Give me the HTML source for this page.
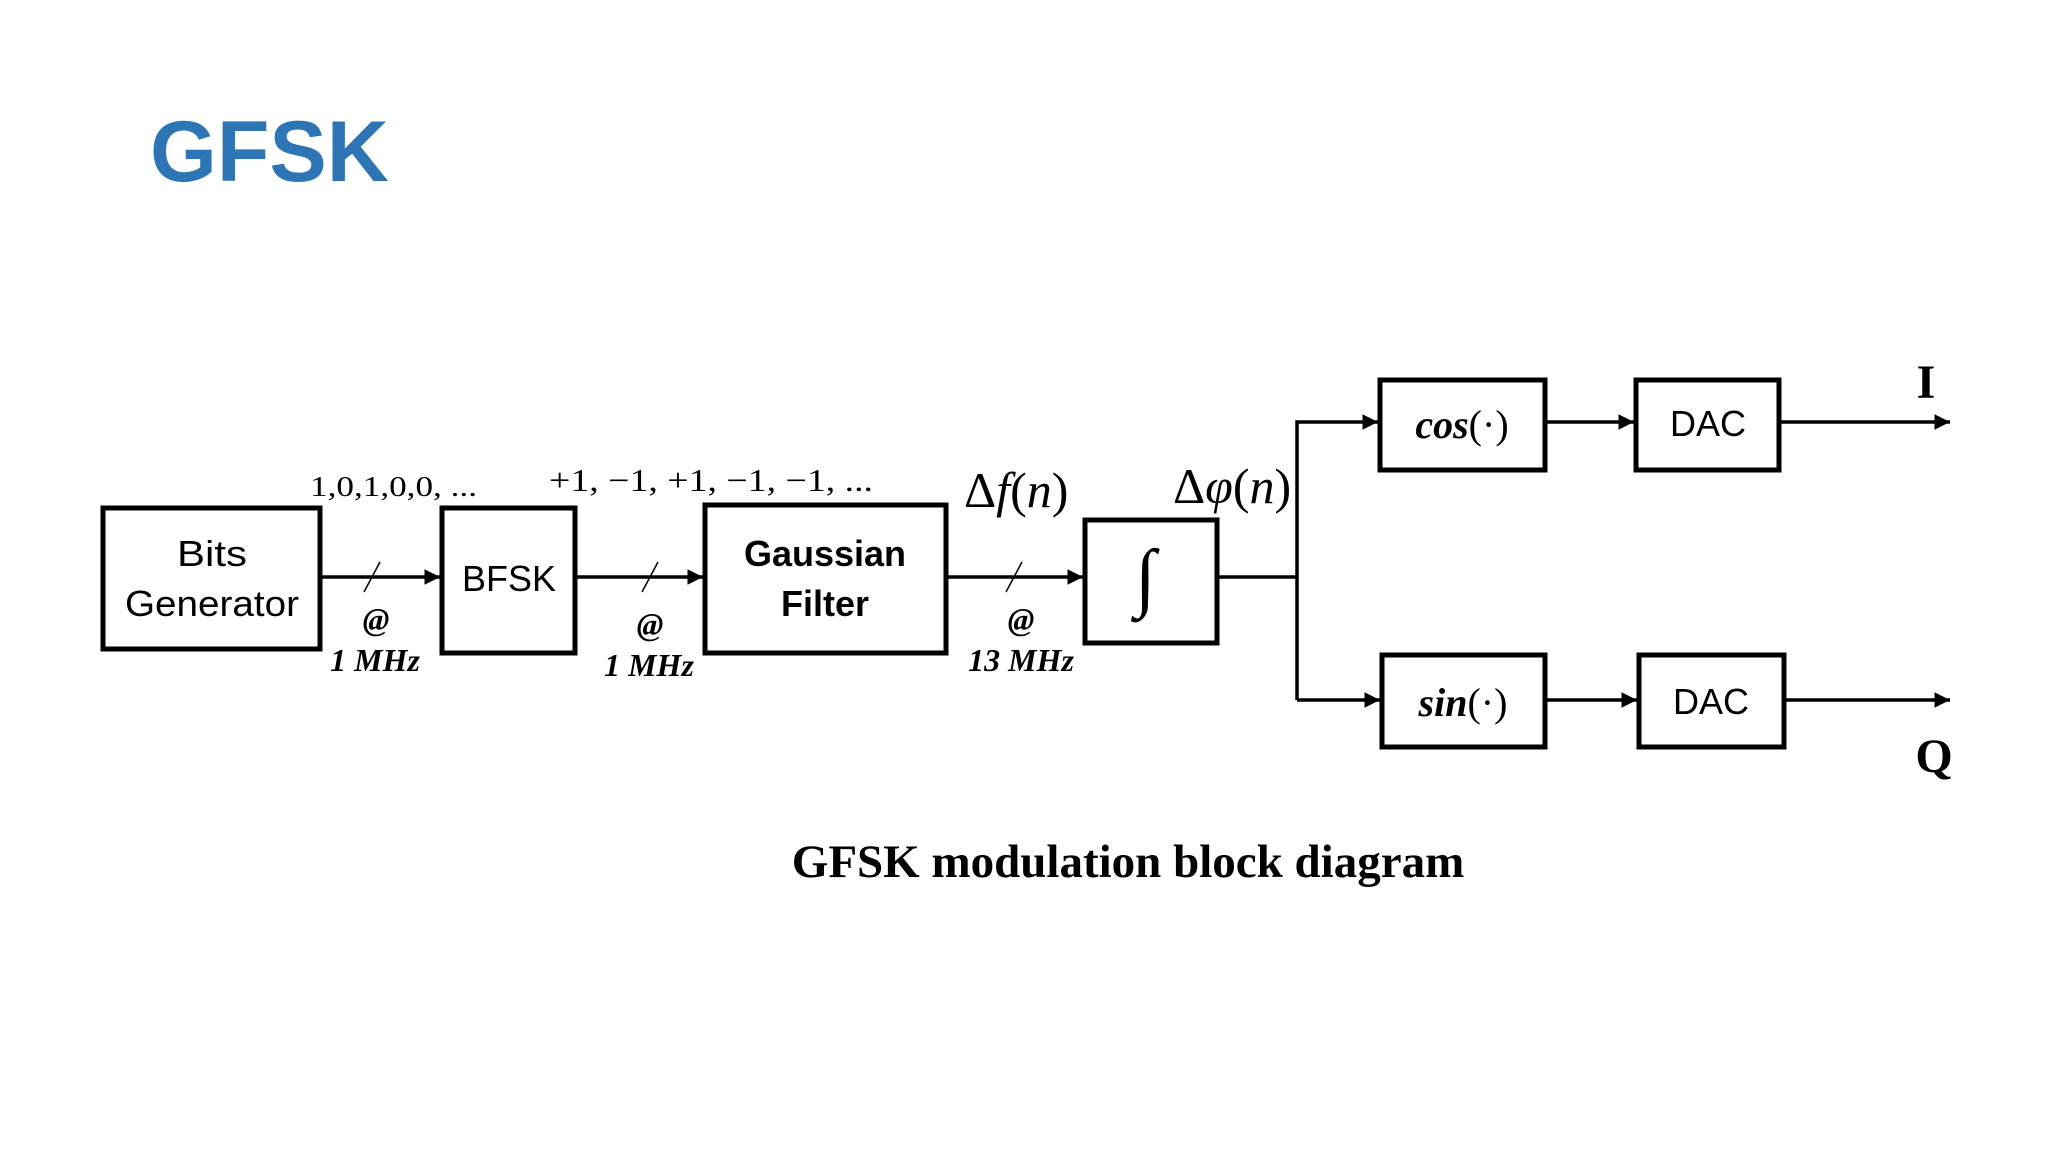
<!DOCTYPE html>
<html><head><meta charset="utf-8"><style>
html,body{margin:0;padding:0;background:#fff}
svg{display:block}
</style></head><body>
<svg width="2048" height="1152" viewBox="0 0 2048 1152" xmlns="http://www.w3.org/2000/svg">
<defs>
<marker id="a" viewBox="0 0 10 10" refX="10" refY="5" markerWidth="4.5" markerHeight="4.5" orient="auto" markerUnits="strokeWidth">
<path d="M0,0 L10,5 L0,10 z" fill="#000"/></marker>
</defs>
<text x="150" y="181" font-family="Liberation Sans, sans-serif" font-weight="bold" font-size="86" fill="#2e75b6">GFSK</text>

<g fill="none" stroke="#000" stroke-width="5">
<rect x="103" y="508" width="217" height="141"/>
<rect x="442" y="508" width="133" height="145"/>
<rect x="705" y="505" width="241" height="148"/>
<rect x="1085" y="520" width="132" height="123"/>
<rect x="1380" y="380" width="165" height="90"/>
<rect x="1636" y="380" width="143" height="90"/>
<rect x="1382" y="655" width="163" height="92"/>
<rect x="1639" y="655" width="145" height="92"/>
</g>
<g stroke="#000" stroke-width="3.5" fill="none">
<line x1="320" y1="577" x2="440" y2="577" marker-end="url(#a)"/>
<line x1="575" y1="577" x2="703" y2="577" marker-end="url(#a)"/>
<line x1="946" y1="577" x2="1083" y2="577" marker-end="url(#a)"/>
<polyline points="1217,577 1297,577"/>
<polyline points="1297,700 1297,422 1378,422" marker-end="url(#a)"/>
<polyline points="1297,700 1380,700" marker-end="url(#a)"/>
<line x1="1545" y1="422" x2="1634" y2="422" marker-end="url(#a)"/>
<line x1="1545" y1="700" x2="1637" y2="700" marker-end="url(#a)"/>
<line x1="1779" y1="422" x2="1950" y2="422" marker-end="url(#a)"/>
<line x1="1784" y1="700" x2="1950" y2="700" marker-end="url(#a)"/>
</g>
<g stroke="#000" stroke-width="1.5">
<line x1="364" y1="592" x2="380" y2="562"/>
<line x1="642" y1="592" x2="658" y2="562"/>
<line x1="1006" y1="592" x2="1022" y2="562"/>
</g>

<g font-family="Liberation Sans, DejaVu Sans, sans-serif" font-size="36" fill="#000" text-anchor="middle">
<text x="212" y="566" textLength="70" lengthAdjust="spacingAndGlyphs">Bits</text>
<text x="212" y="616" textLength="174" lengthAdjust="spacingAndGlyphs">Generator</text>
<text x="509" y="591">BFSK</text>
<text x="825" y="566" font-weight="bold">Gaussian</text>
<text x="825" y="616" font-weight="bold">Filter</text>
<text x="1708" y="436">DAC</text>
<text x="1711" y="714">DAC</text>
</g>
<g font-family="Liberation Serif, DejaVu Serif, serif" fill="#000">
<text x="1135" y="602" font-size="76" font-style="italic">∫</text>
<text x="1462" y="438" font-size="40" text-anchor="middle"><tspan font-style="italic" font-weight="bold">cos</tspan>(·)</text>
<text x="1463" y="716" font-size="40" text-anchor="middle"><tspan font-style="italic" font-weight="bold">sin</tspan>(·)</text>
<text x="310" y="496" font-size="28" textLength="167" lengthAdjust="spacingAndGlyphs">1,0,1,0,0, ...</text>
<text x="549" y="491" font-size="32" textLength="324" lengthAdjust="spacingAndGlyphs">+1, −1, +1, −1, −1, ...</text>
<text x="964" y="507" font-size="50">Δ<tspan font-style="italic">f</tspan>(<tspan font-style="italic">n</tspan>)</text>
<text x="1173" y="503" font-size="50">Δ<tspan font-style="italic">φ</tspan>(<tspan font-style="italic">n</tspan>)</text>
<g font-size="32" font-weight="bold" font-style="italic" text-anchor="middle">
<text x="376" y="630">@</text>
<text x="375" y="671">1 MHz</text>
<text x="650" y="635">@</text>
<text x="649" y="676">1 MHz</text>
<text x="1021" y="630">@</text>
<text x="1021" y="671">13 MHz</text>
</g>
<text x="1926" y="398" font-size="48" font-weight="bold" text-anchor="middle">I</text>
<text x="1934" y="772" font-size="48" font-weight="bold" text-anchor="middle">Q</text>
<text x="1128" y="877" font-size="47" font-weight="bold" text-anchor="middle">GFSK modulation block diagram</text>
</g>
</svg>
</body></html>
